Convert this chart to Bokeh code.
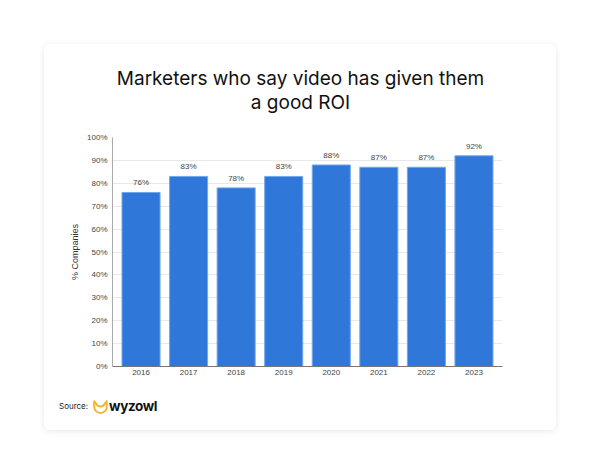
from bokeh.plotting import figure
from bokeh.layouts import column
from bokeh.models import ColumnDataSource, NumeralTickFormatter, FixedTicker, Range1d, Div
from bokeh.core.properties import value
from bokeh.embed import file_html
from bokeh.resources import INLINE

years = ["2016", "2017", "2018", "2019", "2020", "2021", "2022", "2023"]
values = [76, 83, 78, 83, 88, 87, 87, 92]
y_ticks = [0, 10, 20, 30, 40, 50, 60, 70, 80, 90, 100]

title_lines = ["Marketers who say video has given them", "a good ROI"]
y_label = "% Companies"
source_label = "Source:"
brand = "wyzowl"

W = 512
FRAME_W = 390  # chart frame width (frames of column children are aligned)

# ---- header with title (frame aligned with chart frame: card x 68..458) ----
HH = 88
head = figure(width=W, height=HH, x_range=Range1d(0, FRAME_W), y_range=Range1d(0, HH),
              output_backend="svg", toolbar_location=None,
              x_axis_location=None, y_axis_location=None, min_border=0)
head.xgrid.visible = False
head.ygrid.visible = False
head.outline_line_color = None
head.background_fill_color = "white"
head.border_fill_color = "white"
head.text(x=[W / 2 - 68, W / 2 - 68], y=[HH - 34, HH - 58], text=title_lines,
          text_align="center", text_baseline="middle", text_font=value("Inter"),
          text_font_size="19px", text_color="#111111")

# ---- chart ----
frac = [v / 100 for v in values]
labels = [f"{v}%" for v in values]
src = ColumnDataSource(dict(year=years, frac=frac, label=labels))

p = figure(width=W, height=264, x_range=years, y_range=Range1d(0, 1),
           output_backend="svg", toolbar_location=None,
           min_border_left=68, min_border_right=54, min_border_top=5, min_border_bottom=30)
p.x_range.range_padding = 0.1
p.x_range.range_padding_units = "absolute"
p.background_fill_color = "white"
p.border_fill_color = "white"
p.outline_line_color = None

p.vbar(x="year", top="frac", width=0.8, source=src, fill_color="#2f78d9",
       line_color="#74a6ea", line_width=1)
p.text(x="year", y="frac", text="label", source=src, text_align="center",
       text_baseline="bottom", y_offset=-5, text_font_size="8px", text_color="#444444",
       text_font=value("Liberation Sans"))

p.yaxis.ticker = FixedTicker(ticks=[t / 100 for t in y_ticks])
p.yaxis.formatter = NumeralTickFormatter(format="0%")
for ax in (p.xaxis, p.yaxis):
    ax.major_tick_line_color = None
    ax.minor_tick_line_color = None
    ax.major_tick_out = 0
    ax.major_tick_in = 0
    ax.minor_tick_out = 0
    ax.major_label_text_font_size = "8px"
    ax.major_label_text_color = "#444444"
    ax.major_label_text_font = "Liberation Sans"
    ax.axis_line_width = 1
p.yaxis.axis_line_color = "#aaaaaa"
p.xaxis.axis_line_color = "#777777"
p.yaxis.major_label_standoff = 5
p.xaxis.major_label_standoff = 3
p.yaxis.axis_label = y_label
p.yaxis.axis_label_text_font_size = "9px"
p.yaxis.axis_label_text_font_style = "normal"
p.yaxis.axis_label_text_font = "Liberation Sans"
p.yaxis.axis_label_text_color = "#333333"
p.yaxis.axis_label_standoff = 4
p.xgrid.grid_line_color = None
p.ygrid.grid_line_color = "#e8e8e8"

# ---- footer with source ----
logo_svg = ('<svg width="15" height="14" viewBox="0 0 15 14" style="margin:0 1px 0 5px">'
            '<path d="M1.2,1.2 L4.6,5.6 Q7.5,7.3 10.4,5.6 L13.8,1.2 L13.8,6.8 '
            'A6.3,6.2 0 0 1 1.2,6.8 Z" fill="none" stroke="#f5b230" stroke-width="1.9" '
            'stroke-linejoin="round"/></svg>')
foot_html = ('<div style="display:flex;align-items:center;height:22px;padding-left:15px;'
             'font-family:Inter,sans-serif;color:#111">'
             f'<span style="font-size:8px;color:#222">{source_label}</span>'
             f'{logo_svg}'
             f'<span style="font-size:13.5px;font-weight:700;letter-spacing:-0.4px">{brand}</span>'
             '</div>')
foot = Div(text=foot_html, width=W, height=34, margin=0,
           styles={"background": "white"})

card = column(head, p, foot, spacing=0)
card.margin = (44, 0, 0, 44)
card.styles = {"background": "white", "border-radius": "6px",
               "box-shadow": "0 1px 6px rgba(0,0,0,0.10)", "overflow": "hidden"}

html = file_html(card, INLINE)
html = html.replace("<body>", '<body style="background:#f7f7f7">', 1)
open("out.html", "w").write(html)
